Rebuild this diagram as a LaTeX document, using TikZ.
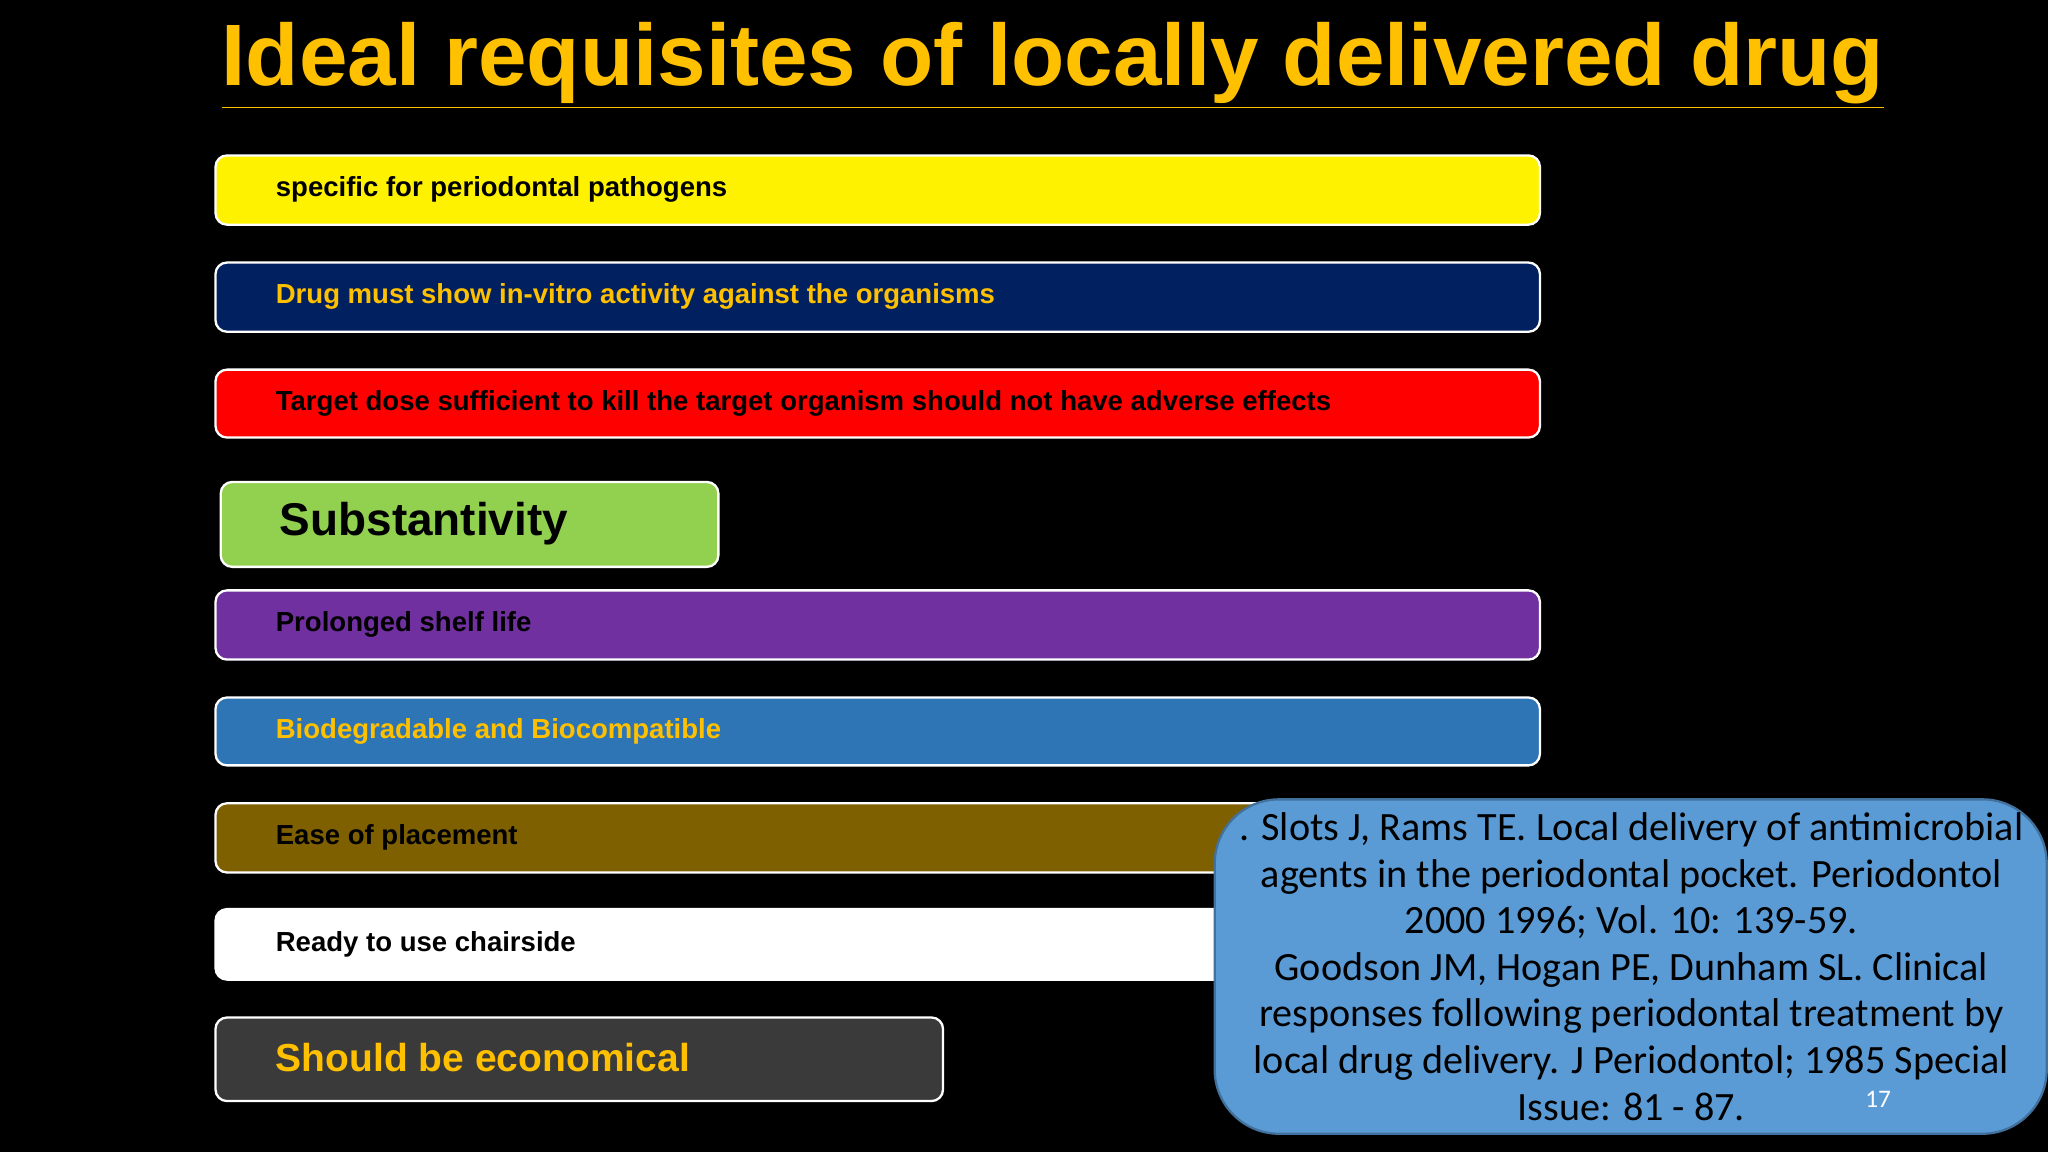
\documentclass[tikz,border=0pt]{standalone}
\usepackage{fontspec}
\setmainfont{Liberation Sans}
\newfontfamily\carl{Carlito}
\definecolor{gold}{HTML}{FFC000}
\definecolor{navy}{HTML}{002060}
\definecolor{lgreen}{HTML}{92D050}
\definecolor{purp}{HTML}{7030A0}
\definecolor{mblue}{HTML}{2E75B6}
\definecolor{brown}{HTML}{7F6000}
\definecolor{dgray}{HTML}{3A3A3A}
\definecolor{refblue}{HTML}{5B9BD5}
\definecolor{refedge}{HTML}{41719C}
\begin{document}
\begin{tikzpicture}[x=0.02cm,y=-0.02cm,
 bar/.style={draw=white,line width=1pt,rounded corners=5pt},
 lbl/.style={anchor=west,font=\fontsize{12}{14}\selectfont\bfseries}]
\fill[black] (0,0) rectangle (1568,882);
\useasboundingbox (0,0) rectangle (1568,882);
\node[text=gold,font=\fontsize{38}{44}\selectfont\bfseries] (title) at (806,50) {\underline{Ideal requisites of locally delivered drug}};
\draw[bar,fill=yellow] (165,119) rectangle (1179,172);
\node[lbl,text=black] (t1) at (205,145) {specific for periodontal pathogens};
\draw[bar,fill=navy] (165,201) rectangle (1179,254);
\node[lbl,text=gold] (t2) at (205,227) {Drug must show in-vitro activity against the organisms};
\draw[bar,fill=red] (165,283) rectangle (1179,335);
\node[lbl,text=black] (t3) at (205,309) {Target dose sufficient to kill the target organism should not have adverse effects};
\draw[bar,fill=lgreen] (169,369) rectangle (550,434);
\node[lbl,text=black,font=\fontsize{20}{24}\selectfont\bfseries] (t4) at (208,401) {Substantivity};
\draw[bar,fill=purp] (165,452) rectangle (1179,505);
\node[lbl,text=black] (t5) at (205,478) {Prolonged shelf life};
\draw[bar,fill=mblue] (165,534) rectangle (1179,586);
\node[lbl,text=gold] (t6) at (205,560) {Biodegradable and Biocompatible};
\draw[bar,fill=brown] (165,615) rectangle (1179,668);
\node[lbl,text=black] (t7) at (205,641) {Ease of placement};
\draw[bar,fill=white] (165,696) rectangle (1179,750);
\node[lbl,text=black] (t8) at (205,723) {Ready to use chairside};
\draw[bar,fill=dgray] (165,779) rectangle (722,843);
\node[lbl,text=gold,font=\fontsize{17}{20}\selectfont\bfseries] (t9) at (205,810) {Should be economical};
\draw[draw=refedge,line width=1pt,fill=refblue,rounded corners=28pt] (930,612) rectangle (1567,868);
\node[align=center,text=black,font=\carl\fontsize{17.5}{20.3}\selectfont] (ref) at (1249,740) {. Slots J, Rams TE. Local delivery of antimicrobial\\agents in the periodontal pocket. Periodontol\\2000 1996; Vol. 10: 139-59.\\Goodson JM, Hogan PE, Dunham SL. Clinical\\responses following periodontal treatment by\\local drug delivery. J Periodontol; 1985 Special\\Issue: 81 - 87.};
\node[text=white,font=\carl\fontsize{11}{13}\selectfont] (pg) at (1438,842) {17};
\end{tikzpicture}
\end{document}
